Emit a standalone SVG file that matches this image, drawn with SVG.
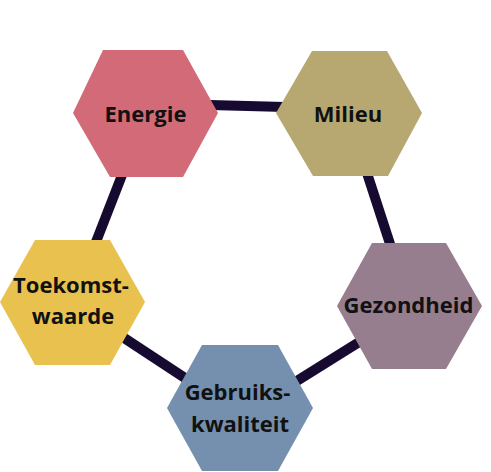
<svg xmlns="http://www.w3.org/2000/svg" width="491" height="472" viewBox="0 0 491 472">
<style>
.c{stroke:#170a30;stroke-width:10;fill:none}
.t{font-family:"Open Sans","Noto Sans","Liberation Sans",sans-serif;font-weight:bold;font-size:22px;fill:#111;text-anchor:middle}
</style>
<rect width="491" height="472" fill="#fff"/>
<g id="connectors">
<line class="c" x1="210" y1="105" x2="285" y2="107"/>
<line class="c" x1="124" y1="170" x2="94" y2="247"/>
<line class="c" x1="366" y1="170" x2="392" y2="250"/>
<line class="c" x1="112" y1="330" x2="188" y2="380"/>
<line class="c" x1="292" y1="384" x2="364" y2="339"/>
</g>
<g id="energie">
<polygon points="103,50 183,50 218,113 183,177 110,177 73,113" fill="#d26a78"/>
<text class="t" x="145.5" y="122">Energie</text>
</g>
<g id="milieu">
<polygon points="312,51 387,51 422,113 388,176 313,176 276,113" fill="#b6a870"/>
<text class="t" x="348" y="122">Milieu</text>
</g>
<g id="toekomstwaarde">
<polygon points="35,240 110,240 145,302 110,365 35,365 0,302" fill="#e8c14f"/>
<text class="t" x="71" y="293">Toekomst-</text>
<text class="t" x="73" y="324">waarde</text>
</g>
<g id="gezondheid">
<polygon points="372,243 446,243 482,306 446,369 372,369 337,306" fill="#977e8f"/>
<text class="t" x="408.5" y="313">Gezondheid</text>
</g>
<g id="gebruikskwaliteit">
<polygon points="202,345 278,345 313,408 278,471 202,471 167,408" fill="#7490ae"/>
<text class="t" x="237.5" y="400">Gebruiks-</text>
<text class="t" x="240" y="432">kwaliteit</text>
</g>
</svg>
